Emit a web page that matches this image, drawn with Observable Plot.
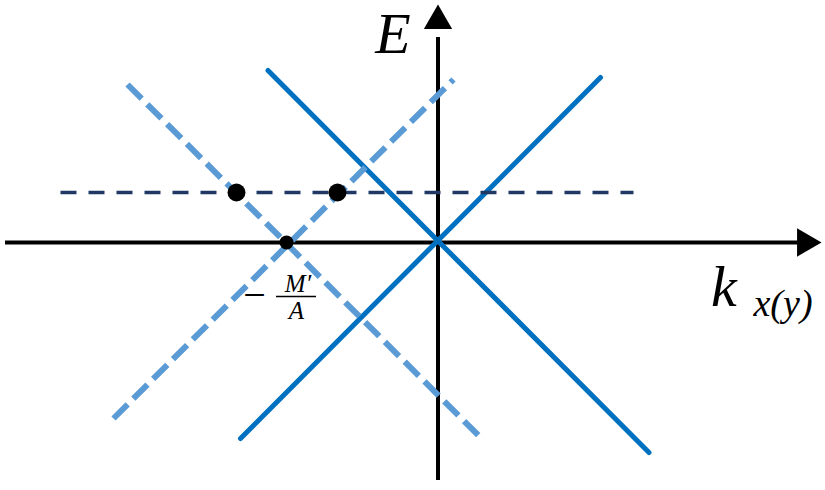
<!DOCTYPE html>
<html><head><meta charset="utf-8">
<script src="https://cdn.jsdelivr.net/npm/d3@7"></script>
<script src="https://cdn.jsdelivr.net/npm/@observablehq/plot@0.6"></script>
<style>body{margin:0;background:#fff}</style>
</head><body><div id="chart"></div>
<script>
// Schematic dispersion: k (horizontal), E (vertical)
const solidFalling = [[-1.70, 1.72], [2.11, -2.10]];
const solidRising = [[-1.975, -1.96], [1.625, 1.65]];
const dashedFalling = [[-3.105, 1.58], [0.455, -1.98]];
const dashedRising = [[-3.245, -1.76], [0.155, 1.63]];
const energyLevel = [[-3.775, 0.5], [1.955, 0.5]];
const crossingPoints = [[-2.015, 0.5], [-1.005, 0.5]];
const shiftPoint = [[-1.515, 0]];
const kAxis = [-4.325, 3.70];
const eAxis = [-2.38, 2.05];
const kArrow = [[3.672, 0]];
const eArrow = [[0, 2.217]];

const serif = "'Liberation Serif', 'DejaVu Serif', serif";
const px = d => d[0], py = d => d[1];

const plot = Plot.plot({
  width: 825, height: 490,
  margin: 0,
  x: {domain: [-4.375, 3.875], axis: null},
  y: {domain: [-2.48, 2.42], axis: null},
  marks: [
    Plot.ruleY([0], {x1: kAxis[0], x2: kAxis[1], stroke: "black", strokeWidth: 4}),
    Plot.ruleX([0], {y1: eAxis[0], y2: eAxis[1], stroke: "black", strokeWidth: 4}),
    Plot.dot(kArrow, {x: px, y: py, symbol: "triangle", r: 10.5, fill: "black", stroke: "none", rotate: 90}),
    Plot.dot(eArrow, {x: px, y: py, symbol: "triangle", r: 10.5, fill: "black", stroke: "none"}),
    Plot.line(solidFalling, {x: px, y: py, stroke: "#0070c0", strokeWidth: 5}),
    Plot.line(solidRising, {x: px, y: py, stroke: "#0070c0", strokeWidth: 5}),
    Plot.line(dashedFalling, {x: px, y: py, stroke: "#5b9bd5", strokeWidth: 6, strokeDasharray: "20,8", strokeLinecap: "butt"}),
    Plot.line(dashedRising, {x: px, y: py, stroke: "#5b9bd5", strokeWidth: 6, strokeDasharray: "20,8", strokeLinecap: "butt"}),
    Plot.line(energyLevel, {x: px, y: py, stroke: "#1f3864", strokeWidth: 3.5, strokeDasharray: "16,12", strokeLinecap: "butt"}),
    Plot.dot(crossingPoints, {x: px, y: py, r: 9, fill: "black", stroke: "none"}),
    Plot.dot(shiftPoint, {x: px, y: py, r: 7, fill: "black", stroke: "none"}),
    Plot.text(["E"], {x: -0.45, y: 1.90, text: d => d, fontFamily: serif, fontStyle: "italic", fontSize: 58, textAnchor: "middle", lineAnchor: "bottom", fill: "black"}),
    Plot.text(["k"], {x: 2.73, y: -0.63, text: d => d, fontFamily: serif, fontStyle: "italic", fontSize: 58, textAnchor: "start", lineAnchor: "bottom", fill: "black"}),
    Plot.text(["x(y)"], {x: 3.155, y: -0.73, text: d => d, fontFamily: serif, fontStyle: "italic", fontSize: 38, textAnchor: "start", lineAnchor: "bottom", fill: "black"}),
    Plot.text(["−"], {x: -1.835, y: -0.655, text: d => d, fontFamily: serif, fontSize: 40, textAnchor: "middle", lineAnchor: "bottom", fill: "black"}),
    Plot.text(["M′"], {x: -1.40, y: -0.49, text: d => d, fontFamily: serif, fontStyle: "italic", fontSize: 25, textAnchor: "middle", lineAnchor: "bottom", fill: "black"}),
    Plot.ruleY([-0.54], {x1: -1.615, x2: -1.215, stroke: "black", strokeWidth: 1.5}),
    Plot.text(["A"], {x: -1.415, y: -0.76, text: d => d, fontFamily: serif, fontStyle: "italic", fontSize: 25, textAnchor: "middle", lineAnchor: "bottom", fill: "black"})
  ]
});
document.getElementById("chart").appendChild(plot);
</script>
</body></html>
